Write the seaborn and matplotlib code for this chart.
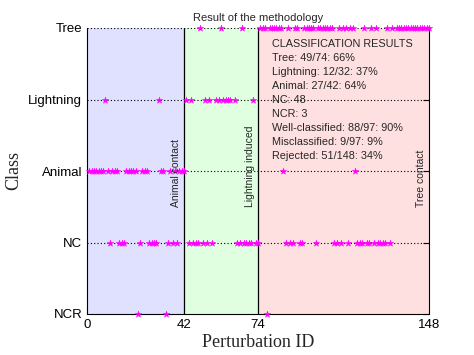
import matplotlib
matplotlib.use('Agg')
import numpy as np
import pandas as pd
import seaborn as sns
import matplotlib.pyplot as plt

### Data: perturbation IDs assigned to each class
class_names = ['NCR', 'NC', 'Animal', 'Lightning', 'Tree']
tree_ids = [49, 58, 67, 75, 76, 77, 79, 80, 81, 82, 83, 84, 87, 90, 91,
            94, 95, 96, 97, 98, 100, 101, 102, 103, 104, 105, 106, 109,
            111, 112, 114, 115, 120, 123, 125, 130, 132, 134, 135, 136,
            137, 138, 139, 140, 141, 142, 143, 144, 145, 146, 147, 148]
lightning_ids = [8, 31, 43, 45, 51, 53, 56, 57, 59, 60, 61, 62, 64, 72]
animal_ids = [1, 2, 3, 4, 5, 6, 7, 9, 11, 12, 13, 17, 18, 19, 20, 21, 24,
              25, 26, 32, 33, 36, 38, 40, 41, 42, 85, 116]
nc_ids = [10, 14, 15, 16, 23, 27, 28, 29, 30, 35, 37, 39,
          44, 46, 47, 48, 50, 52, 54, 65, 66, 68, 69, 70, 71, 73, 74,
          86, 88, 89, 92, 93, 99, 107, 108, 110, 113, 117, 118, 119, 121,
          122, 124, 126, 127, 128, 129, 131]
ncr_ids = [22, 34, 78]

region_edges = [0, 42, 74, 148]
region_labels = ['Animal contact', 'Lightning induced', 'Tree contact']
region_colors = ['#e0e0ff', '#e0ffe0', '#ffe0e0']

results_text = ("CLASSIFICATION RESULTS\n"
                "Tree: 49/74: 66%\n"
                "Lightning: 12/32: 37%\n"
                "Animal: 27/42: 64%\n"
                "NC: 48\n"
                "NCR: 3\n"
                "Well-classified: 88/97: 90%\n"
                "Misclassified: 9/97: 9%\n"
                "Rejected: 51/148: 34%")

### Build long table
groups = {'Tree': tree_ids, 'Lightning': lightning_ids, 'Animal': animal_ids,
          'NC': nc_ids, 'NCR': ncr_ids}
df = pd.concat([pd.DataFrame({'id': v, 'cls': k}) for k, v in groups.items()],
               ignore_index=True)
df['pos'] = df['cls'].map({c: i for i, c in enumerate(class_names)})

### Plot
sns.set_style('white')
plt.rcParams['font.family'] = ['Liberation Sans', 'DejaVu Sans']

fig = plt.figure(figsize=(4.74, 3.55), dpi=100)
ax = fig.add_axes([87 / 474, 1 - 314 / 355, (429 - 87) / 474, (314 - 28) / 355])

for i, col in enumerate(region_colors):
    ax.axvspan(region_edges[i], region_edges[i + 1], color=col, lw=0, zorder=0)
for x in region_edges[1:3]:
    ax.axvline(x, color='black', lw=0.9, zorder=2)
for y in range(1, len(class_names)):
    ax.axhline(y, color='black', lw=0.8, ls=(0, (1, 2)), zorder=1)

sns.scatterplot(data=df, x='id', y='pos', marker='*', s=24, color='#ff00ff',
                edgecolor='#ff00ff', linewidth=0.3, ax=ax, zorder=3,
                clip_on=False, legend=False)

for i, lab in enumerate(region_labels):
    ax.text(region_edges[i + 1] - 1.2, 1.5, lab, rotation=90, ha='right',
            va='bottom', fontsize=7.5, zorder=4)

ax.text(80, 3.84, results_text, ha='left', va='top', fontsize=7.8,
        linespacing=1.5, zorder=4)

ax.set_xlim(0, 148)
ax.set_ylim(0, 4)
ax.set_xticks(region_edges)
ax.set_yticks(range(len(class_names)))
ax.set_yticklabels(class_names)
ax.tick_params(direction='in', length=4, width=0.8, right=True, top=False,
               labelsize=9.5, pad=3.5, colors='black')
ax.tick_params(axis='y', which='both', labelright=False)

for s in ['left', 'bottom', 'right']:
    ax.spines[s].set_color('black')
    ax.spines[s].set_linewidth(0.8)
ax.spines['top'].set_visible(False)

ax.set_title('Result of the methodology', fontsize=8, pad=5)
ax.set_xlabel('Perturbation ID', fontsize=13, family='Liberation Serif')
ax.set_ylabel('Class', fontsize=13, family='Liberation Serif')
ax.xaxis.set_label_coords(0.5, -0.07)
ax.yaxis.set_label_coords(-0.19, 0.5)

fig.savefig('out.png', dpi=100)
